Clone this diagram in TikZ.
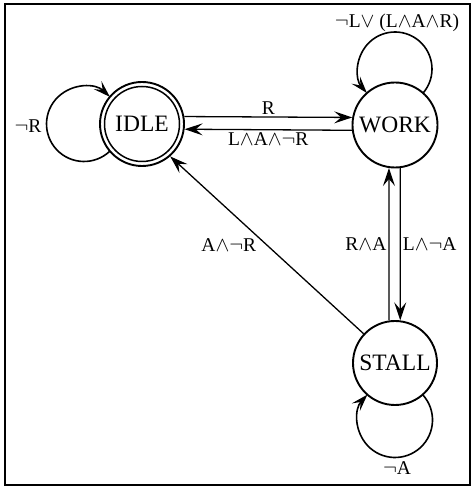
\documentclass[tikz,border=0pt]{standalone}
\usepackage{fontspec}
\setmainfont{Liberation Serif}
\usetikzlibrary{arrows.meta,calc}
\begin{document}
\begin{tikzpicture}[x=1pt,y=1pt,
  state/.style={circle,draw,line width=1.9pt,inner sep=0pt,font=\fontsize{23.5}{27}\selectfont},
  lab/.style={font=\fontsize{19.5}{22}\selectfont,inner sep=2pt},
  tr/.style={line width=1.3pt,-{Stealth[length=18pt,width=12pt,inset=7pt]}},
  loopst/.style={line width=1.6pt,-{Stealth[length=17pt,width=11pt,inset=7pt]}}]
\useasboundingbox (0,0) rectangle (474,489);
\draw[line width=1.4pt] (5,4) rectangle (470,485);
% states
\node[state,minimum size=84pt] (idle) at (142,365) {IDLE};
\draw[line width=1.5pt] (idle.center) circle[radius=37.5];
\node[state,minimum size=85pt] (work) at (395,364) {WORK};
\node[state,minimum size=84pt] (stall) at (395,126) {STALL};
% transitions
\draw[tr] (idle.10) -- node[lab,above] (lR) {R} (work.170);
\draw[tr] (work.187) -- node[lab,below] (lLAnR) {L$\wedge$A$\wedge\neg$R} (idle.-7);
\draw[tr] (stall.98) -- node[lab,left] (lRA) {R$\wedge$A} (work.262);
\draw[tr] (work.277) -- node[lab,right] (lLnA) {L$\wedge\neg$A} (stall.83);
\draw[tr] (stall.137) -- node[lab,pos=0.5,left=8pt] (lAnR) {A$\wedge\neg$R} (idle.-49);
% loops
\draw[loopst] ($(idle.center)+(-58,0)+(-46.3:37.5)$) arc[start angle=-46.3,end angle=-313.7,radius=37.5];
\draw[loopst] ($(work.center)+(0,56)+(-40.6:37)$) arc[start angle=-40.6,end angle=220.6,radius=37];
\draw[loopst] ($(stall.center)+(0,-57)+(42.6:37.5)$) arc[start angle=42.6,end angle=-222.6,radius=37.5];
% loop labels
\node[lab] (lnR) at (28,363) {$\neg$R};
\node[lab] (lwl) at (397,466) {$\neg$L$\vee$ (L$\wedge$A$\wedge$R)};
\node[lab] (lnA) at (397,21) {$\neg$A};
\end{tikzpicture}
\end{document}
